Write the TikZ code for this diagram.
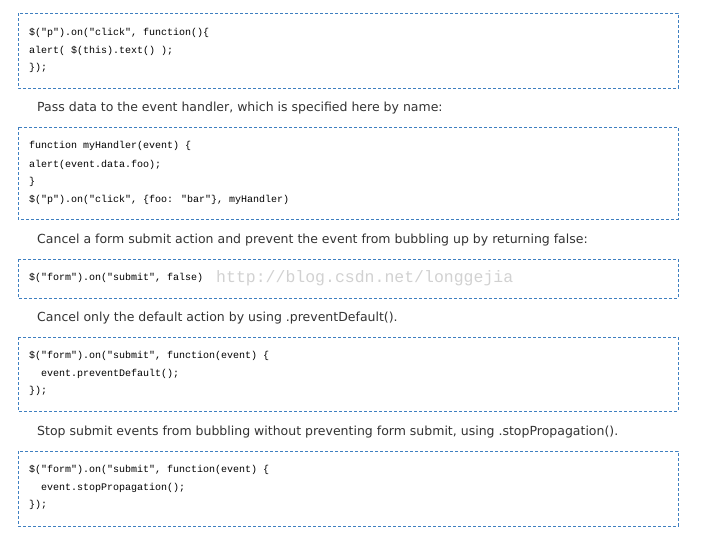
\documentclass[tikz,border=0pt]{standalone}
\usepackage{fontspec}
\setmainfont{DejaVu Sans}
\newfontfamily\codefont{Liberation Mono}
\definecolor{bx}{HTML}{3F7FC0}
\definecolor{tx}{HTML}{333333}
\begin{document}
\begin{tikzpicture}[x=1pt,y=-1pt,
  box/.style={draw=bx,dashed,dash pattern=on 3pt off 2pt,line width=0.8pt},
  code/.style={anchor=west,inner sep=0pt,font=\codefont\fontsize{10}{12}\selectfont,text=black},
  lbl/.style={anchor=west,inner sep=0pt,font=\fontsize{12.5}{15}\selectfont,text=tx}]
\useasboundingbox (0,0) rectangle (711,536);
\draw[box] (18,13) rectangle (678,88);
\node[code] (c1) at (29,33) {\$("p").on("click", function()\{};
\node[code] (c2) at (29,51) {alert( \$(this).text() );};
\node[code] (c3) at (29,68) {\});};
\node[lbl] (l1) at (37,108) {Pass data to the event handler, which is specified here by name:};
\draw[box] (18,127) rectangle (678,219);
\node[code] (d1) at (29,146) {function myHandler(event) \{};
\node[code] (d2) at (29,165) {alert(event.data.foo);};
\node[code] (d3) at (29,182) {\}};
\node[code] (d4) at (29,200) {\$("p").on("click", \{foo: "bar"\}, myHandler)};
\node[lbl] (l2) at (37,240) {Cancel a form submit action and prevent the event from bubbling up by returning false:};
\draw[box] (18,259) rectangle (678,298);
\node[code] (e1) at (29,278) {\$("form").on("submit", false)};
\node[anchor=west,inner sep=0pt,font=\fontspec{Liberation Mono}\fontsize{16.5}{20}\selectfont,text=black!18] (wm) at (216,278) {http://blog.csdn.net/longgejia};
\node[lbl] (l3) at (37,318) {Cancel only the default action by using .preventDefault().};
\draw[box] (18,337) rectangle (678,411);
\node[code] (f1) at (29,356) {\$("form").on("submit", function(event) \{};
\node[code] (f2) at (41,374) {event.preventDefault();};
\node[code] (f3) at (29,391) {\});};
\node[lbl] (l4) at (37,432) {Stop submit events from bubbling without preventing form submit, using .stopPropagation().};
\draw[box] (18,451) rectangle (678,526);
\node[code] (g1) at (29,470) {\$("form").on("submit", function(event) \{};
\node[code] (g2) at (41,488) {event.stopPropagation();};
\node[code] (g3) at (29,505) {\});};
\end{tikzpicture}
\end{document}
